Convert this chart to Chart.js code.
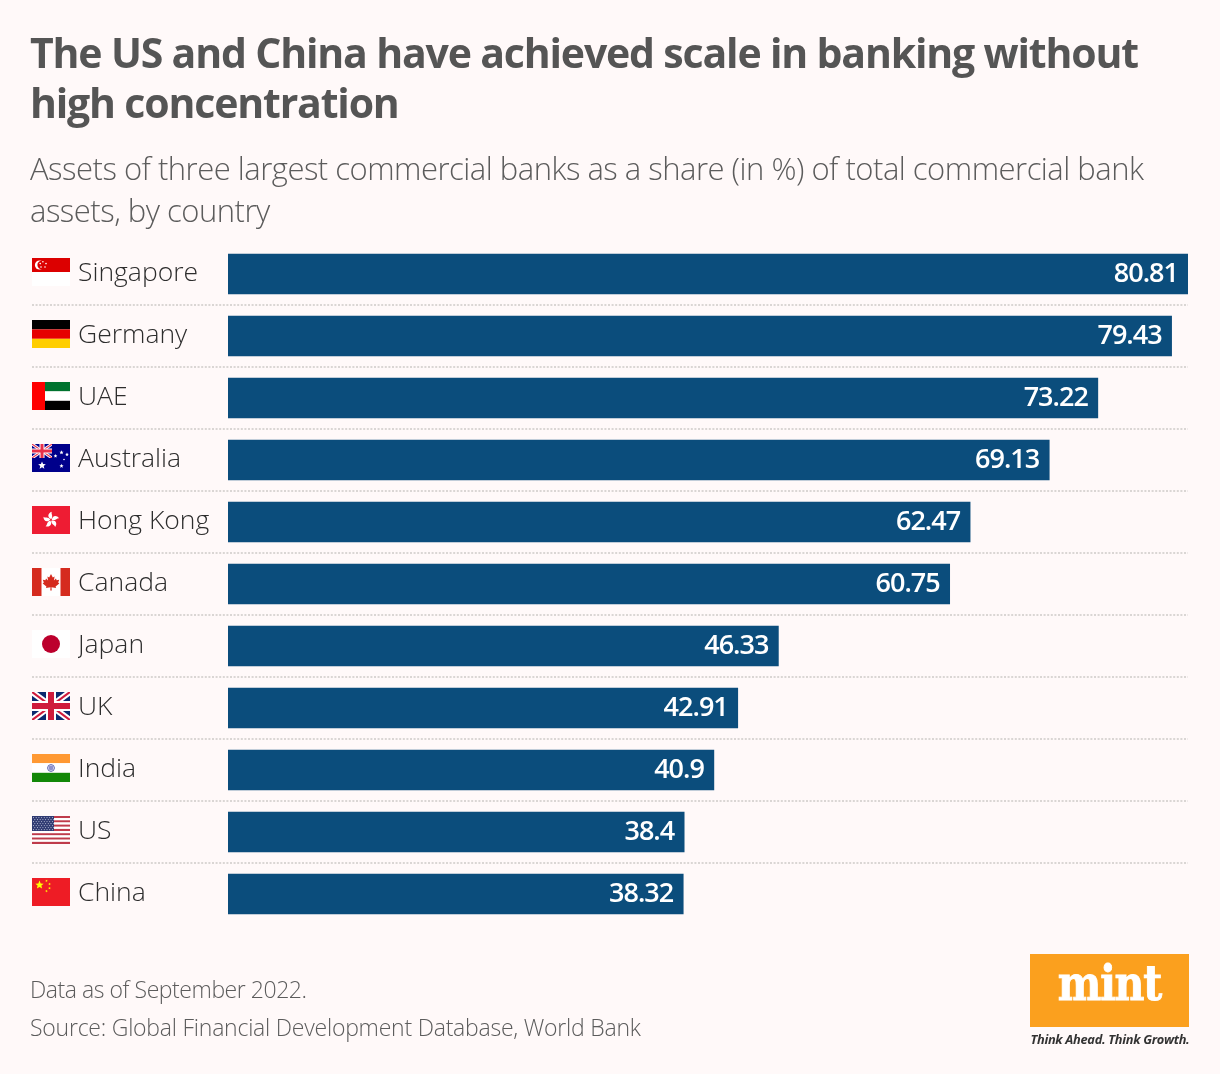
<!DOCTYPE html>
<html>
<head>
<meta charset="utf-8">
<title>Bank concentration by country</title>
<script src="https://cdn.jsdelivr.net/npm/chart.js@4/dist/chart.umd.min.js"></script>
<style>
  html, body { margin: 0; padding: 0; background: #fff9f9; }
  #page { position: relative; width: 1220px; height: 1074px; overflow: hidden; font-family: "Open Sans", sans-serif; }
  #page canvas { position: absolute; left: 0; top: 0; }
  .txt { position: absolute; left: 30px; white-space: nowrap; }
  .head { font-size: 41px; line-height: 50px; font-weight: 700; color: #555; letter-spacing: -1.17px; }
  .sub { font-size: 31px; line-height: 42px; font-weight: 300; color: #5c5c5c; letter-spacing: -0.5px; }
  .foot { font-size: 23px; line-height: 30px; font-weight: 300; color: #5c5c5c; }
  #logo { position: absolute; left: 1030px; top: 954px; width: 159px; height: 73px; background: #fba01e; }
  #logo span { display: block; color: #fff; font: 700 42px/64px "DejaVu Serif", serif; text-align: center; letter-spacing: -1.2px;
               -webkit-text-stroke: 0.8px #fff; transform: scale(0.98, 1.14); transform-origin: 50% 47px; }
  #tag { position: absolute; left: 1030px; top: 1030px; width: 160px; text-align: center; white-space: nowrap;
         font: italic 700 12.8px/18px "Open Sans", sans-serif; color: #333; letter-spacing: -0.3px; }
</style>
</head>
<body>
<div id="page">
  <canvas id="chart" width="1220" height="1074"></canvas>
  <div class="txt head" style="top:27px">The US and China have achieved scale in banking without</div>
  <div class="txt head" style="top:77px">high concentration</div>
  <div class="txt sub" style="top:147px">Assets of three largest commercial banks as a share (in %) of total commercial bank</div>
  <div class="txt sub" style="top:189px">assets, by country</div>
  <div class="txt foot" style="top:974px; letter-spacing:-0.45px">Data as of September 2022.</div>
  <div class="txt foot" style="top:1012px; letter-spacing:-0.23px">Source: Global Financial Development Database, World Bank</div>
  <div id="logo"><span>mint</span></div>
  <div id="tag">Think Ahead. Think Growth.</div>
</div>
<script>
(function () {
  "use strict";

  var countries = ["Singapore", "Germany", "UAE", "Australia", "Hong Kong", "Canada", "Japan", "UK", "India", "US", "China"];
  var shares = [80.81, 79.43, 73.22, 69.13, 62.47, 60.75, 46.33, 42.91, 40.9, 38.4, 38.32];

  var FONT = '"Open Sans", sans-serif';

  function rect(c, col, x, y, w, h) {
    c.fillStyle = col;
    c.fillRect(x, y, w, h);
  }

  function star(c, col, x, y, r, rot) {
    c.fillStyle = col;
    c.beginPath();
    for (var i = 0; i < 10; i++) {
      var a = (rot || 0) - Math.PI / 2 + (i * Math.PI) / 5;
      var d = i % 2 ? r * 0.45 : r;
      c.lineTo(x + Math.cos(a) * d, y + Math.sin(a) * d);
    }
    c.closePath();
    c.fill();
  }

  function disc(c, col, x, y, r) {
    c.fillStyle = col;
    c.beginPath();
    c.arc(x, y, r, 0, Math.PI * 2);
    c.fill();
  }

  function line(c, col, w, x1, y1, x2, y2) {
    c.strokeStyle = col;
    c.lineWidth = w;
    c.beginPath();
    c.moveTo(x1, y1);
    c.lineTo(x2, y2);
    c.stroke();
  }

  // union jack, w x h box at the current origin
  function jack(c, w, h, bg, red) {
    var t = h / 28;
    c.save();
    c.beginPath();
    c.rect(0, 0, w, h);
    c.clip();
    rect(c, bg, 0, 0, w, h);
    line(c, "#fff", 6 * t, 0, 0, w, h);
    line(c, "#fff", 6 * t, w, 0, 0, h);
    line(c, red, 2.2 * t, 0, 0, w, h);
    line(c, red, 2.2 * t, w, 0, 0, h);
    rect(c, "#fff", w / 2 - 5 * t, 0, 10 * t, h);
    rect(c, "#fff", 0, h / 2 - 5 * t, w, 10 * t);
    rect(c, red, w / 2 - 3 * t, 0, 6 * t, h);
    rect(c, red, 0, h / 2 - 3 * t, w, 6 * t);
    c.restore();
  }

  // each flag draws in a 38 x 28 box
  var flags = {
    Singapore: function (c) {
      rect(c, "#fff", 0, 0, 38, 28);
      rect(c, "#dc0000", 0, 0, 38, 14);
      disc(c, "#fff", 7.5, 7, 4.6);
      disc(c, "#dc0000", 9.6, 7, 4.2);
      [[10.5, 3.8], [13.6, 5.6], [12.6, 9], [8.6, 9], [7.8, 5.6]].forEach(function (p) {
        disc(c, "#fff", p[0] + 0.4, p[1], 0.8);
      });
    },
    Germany: function (c) {
      rect(c, "#000", 0, 0, 38, 9.4);
      rect(c, "#e60000", 0, 9.4, 38, 9.4);
      rect(c, "#ffce00", 0, 18.8, 38, 9.2);
    },
    UAE: function (c) {
      rect(c, "#00732f", 0, 0, 38, 9.4);
      rect(c, "#fff", 0, 9.4, 38, 9.4);
      rect(c, "#000", 0, 18.8, 38, 9.2);
      rect(c, "#ff0000", 0, 0, 13, 28);
    },
    Australia: function (c) {
      rect(c, "#00008b", 0, 0, 38, 28);
      jack(c, 20, 14, "#00008b", "#e8304a");
      star(c, "#fff", 10, 21.5, 4);
      star(c, "#fff", 29.5, 22, 2.2);
      star(c, "#fff", 29.5, 8.5, 2.2);
      star(c, "#fff", 23.5, 12, 2);
      star(c, "#fff", 35, 10.5, 2);
      disc(c, "#fff", 32, 15.5, 0.8);
    },
    "Hong Kong": function (c) {
      rect(c, "#ee1c33", 0, 0, 38, 28);
      for (var i = 0; i < 5; i++) {
        c.save();
        c.translate(19, 14);
        c.rotate((i * 2 * Math.PI) / 5);
        c.fillStyle = "#fff";
        c.beginPath();
        c.moveTo(0.3, -0.8);
        c.bezierCurveTo(-4.2, -2.6, -3.2, -7, 0.8, -8.2);
        c.bezierCurveTo(-0.2, -6, 2.6, -4, 0.3, -0.8);
        c.fill();
        c.restore();
      }
    },
    Canada: function (c) {
      rect(c, "#fff", 0, 0, 38, 28);
      rect(c, "#d52b1e", 0, 0, 9.5, 28);
      rect(c, "#d52b1e", 28.5, 0, 9.5, 28);
      var leaf = [[19, 6], [20.8, 9.4], [22.6, 8.4], [21.9, 12.6], [24, 10.6], [24.6, 12.2], [27.2, 11.8], [26.2, 14.6],
        [27.3, 15.4], [23.6, 18.4], [24, 19.9], [19.5, 19.3], [19.7, 22.5], [18.3, 22.5], [18.5, 19.3], [14, 19.9], [14.4, 18.4],
        [10.7, 15.4], [11.8, 14.6], [10.8, 11.8], [13.4, 12.2], [14, 10.6], [16.1, 12.6], [15.4, 8.4], [17.2, 9.4]];
      c.fillStyle = "#d52b1e";
      c.beginPath();
      leaf.forEach(function (p) { c.lineTo(p[0], p[1]); });
      c.closePath();
      c.fill();
    },
    Japan: function (c) {
      rect(c, "#fff", 0, 0, 38, 28);
      disc(c, "#bc002d", 19, 14, 9);
    },
    UK: function (c) {
      jack(c, 38, 28, "#0b2a6f", "#cf1b3c");
    },
    India: function (c) {
      rect(c, "#ff9933", 0, 0, 38, 9.2);
      rect(c, "#fff", 0, 9.2, 38, 9.6);
      rect(c, "#138808", 0, 18.8, 38, 9.2);
      c.strokeStyle = "#5a5fb0";
      c.lineWidth = 1;
      c.beginPath();
      c.arc(19, 14, 3.4, 0, Math.PI * 2);
      c.stroke();
      disc(c, "#8e90cc", 19, 14, 2.4);
    },
    US: function (c) {
      for (var i = 0; i < 13; i++) rect(c, i % 2 ? "#fff" : "#bf3b4b", 0, (i * 28) / 13, 38, 28 / 13);
      rect(c, "#2f3a72", 0, 0, 22, 15);
      for (var r = 0; r < 7; r++) {
        for (var k = 0; k < 8; k++) disc(c, "#b9bed6", 1.5 + k * 2.7 + (r % 2 ? 1.3 : 0), 1.6 + r * 2, 0.55);
      }
    },
    China: function (c) {
      rect(c, "#ee1c25", 0, 0, 38, 28);
      star(c, "#ffff00", 7.5, 7, 4.4);
      star(c, "#ffff00", 14.5, 2.8, 1.4, 0.5);
      star(c, "#ffff00", 17.5, 6, 1.4, 0.9);
      star(c, "#ffff00", 17.5, 10.2, 1.4, 0);
      star(c, "#ffff00", 14.5, 13, 1.4, 0.5);
    },
  };

  var rowDecor = {
    id: "rowDecor",
    afterDraw: function (chart) {
      var c = chart.ctx;
      var y = chart.scales.y;
      var meta = chart.getDatasetMeta(0);

      c.save();
      c.strokeStyle = "#dad6d4";
      c.lineWidth = 2;
      c.setLineDash([2, 1.6]);
      for (var i = 0; i < countries.length - 1; i++) {
        var yy = (y.getPixelForValue(i) + y.getPixelForValue(i + 1)) / 2;
        c.beginPath();
        c.moveTo(32, yy);
        c.lineTo(chart.chartArea.right, yy);
        c.stroke();
      }
      c.restore();

      countries.forEach(function (name, i) {
        c.save();
        c.translate(32, y.getPixelForValue(i) - 16);
        c.beginPath();
        c.rect(0, 0, 38, 28);
        c.clip();
        flags[name](c);
        c.restore();
      });

      // value labels sit inside the bar end
      c.save();
      c.fillStyle = "#fff";
      c.font = "600 27px " + FONT;
      c.letterSpacing = "-1px";
      c.textAlign = "right";
      c.textBaseline = "middle";
      shares.forEach(function (v, i) {
        var bar = meta.data[i];
        c.fillText(String(v), bar.x - 10, bar.y);
      });
      c.restore();
    },
  };

  new Chart(document.getElementById("chart").getContext("2d"), {
    type: "bar",
    data: {
      labels: countries,
      datasets: [
        {
          data: shares,
          backgroundColor: "#0b4d7c",
          barThickness: 40,
          borderWidth: 0,
        },
      ],
    },
    plugins: [rowDecor],
    options: {
      indexAxis: "y",
      responsive: false,
      animation: false,
      layout: { padding: { top: 243, right: 32, bottom: 149, left: 78 } },
      scales: {
        x: { display: false, min: 0, max: 80.81 },
        y: {
          grid: { display: false },
          border: { display: false },
          afterFit: function (s) { s.width = 150; },
          ticks: {
            crossAlign: "far",
            padding: 0,
            labelOffset: -1,
            color: "#2d2d2d",
            font: { family: FONT, size: 26.5, weight: "300" },
          },
        },
      },
      plugins: {
        legend: { display: false },
        tooltip: { enabled: false },
      },
    },
  });
})();
</script>
</body>
</html>
